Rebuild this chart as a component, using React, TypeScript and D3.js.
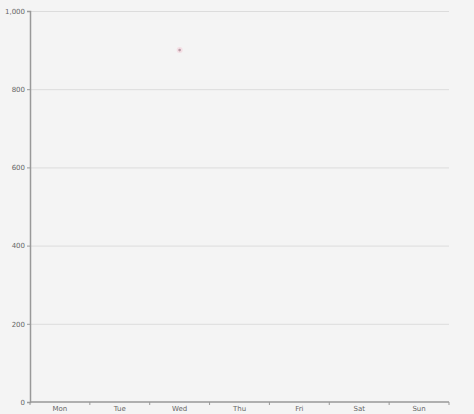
import { useEffect, useRef } from 'react'
import * as d3 from 'd3'

const days = ['Mon', 'Tue', 'Wed', 'Thu', 'Fri', 'Sat', 'Sun']
const yTicks = [0, 200, 400, 600, 800, 1000]
// a single point is visible in the picture
const pointDays = ['Wed']
const pointValues = [900]

const W = 474
const H = 414

export default function App() {
  const svgRef = useRef<SVGSVGElement>(null)

  useEffect(() => {
    if (!svgRef.current) return
    const svg = d3.select(svgRef.current)
    svg.selectAll('*').remove()

    const margin = { top: 11, right: 25, bottom: 12, left: 30 }
    const innerWidth = W - margin.left - margin.right
    const innerHeight = H - margin.top - margin.bottom

    svg.append('rect').attr('width', W).attr('height', H).attr('fill', '#f4f4f4')

    const x = d3.scaleBand().domain(days).range([0, innerWidth])
    const y = d3.scaleLinear().domain([0, 1000]).range([innerHeight, 0])

    const g = svg.append('g').attr('transform', `translate(${margin.left},${margin.top})`)

    // grid
    g.selectAll('.grid')
      .data(yTicks.filter(d => d > 0))
      .enter()
      .append('line')
      .attr('x1', 0)
      .attr('x2', innerWidth)
      .attr('y1', d => y(d) + 0.5)
      .attr('y2', d => y(d) + 0.5)
      .attr('stroke', '#dcdcdc')
      .attr('stroke-width', 1)

    const font = 'DejaVu Sans, sans-serif'

    // y axis
    const yAxis = g.append('g')
      .call(d3.axisLeft(y).tickValues(yTicks).tickSize(3).tickPadding(2).tickFormat(d3.format(',')))
    yAxis.select('.domain').attr('stroke', '#999').attr('stroke-width', 1.5)
    yAxis.selectAll('.tick line').attr('stroke', '#999')
    yAxis.selectAll('text').attr('fill', '#666').attr('font-size', 7).attr('font-family', font)

    // x axis, ticks on band boundaries
    const xAxis = g.append('g').attr('transform', `translate(0,${innerHeight})`)
    xAxis.append('line')
      .attr('x1', 0).attr('x2', innerWidth)
      .attr('y1', 0).attr('y2', 0)
      .attr('stroke', '#999').attr('stroke-width', 1.5)
    const bounds = [...days.map(d => x(d)!), innerWidth]
    xAxis.selectAll('.xt')
      .data(bounds)
      .enter()
      .append('line')
      .attr('x1', d => d).attr('x2', d => d)
      .attr('y1', 0).attr('y2', 3)
      .attr('stroke', '#999')
    xAxis.selectAll('.xl')
      .data(days)
      .enter()
      .append('text')
      .attr('x', d => x(d)! + x.bandwidth() / 2)
      .attr('y', 9)
      .attr('text-anchor', 'middle')
      .attr('fill', '#666')
      .attr('font-size', 7)
      .attr('font-family', font)
      .text(d => d)

    // point
    const pts = pointDays.map((d, i) => ({ day: d, value: pointValues[i] }))
    g.selectAll('.halo')
      .data(pts)
      .enter()
      .append('circle')
      .attr('cx', d => x(d.day)! + x.bandwidth() / 2)
      .attr('cy', d => y(d.value))
      .attr('r', 3)
      .attr('fill', '#f5c6d2')
      .attr('opacity', 0.45)
    g.selectAll('.pt')
      .data(pts)
      .enter()
      .append('circle')
      .attr('cx', d => x(d.day)! + x.bandwidth() / 2)
      .attr('cy', d => y(d.value))
      .attr('r', 1.3)
      .attr('fill', '#b89aa4')
  }, [])

  return (
    <div style={{ position: 'absolute', left: 0, top: 0 }}>
      <svg ref={svgRef} width={W} height={H} style={{ display: 'block' }} />
    </div>
  )
}
